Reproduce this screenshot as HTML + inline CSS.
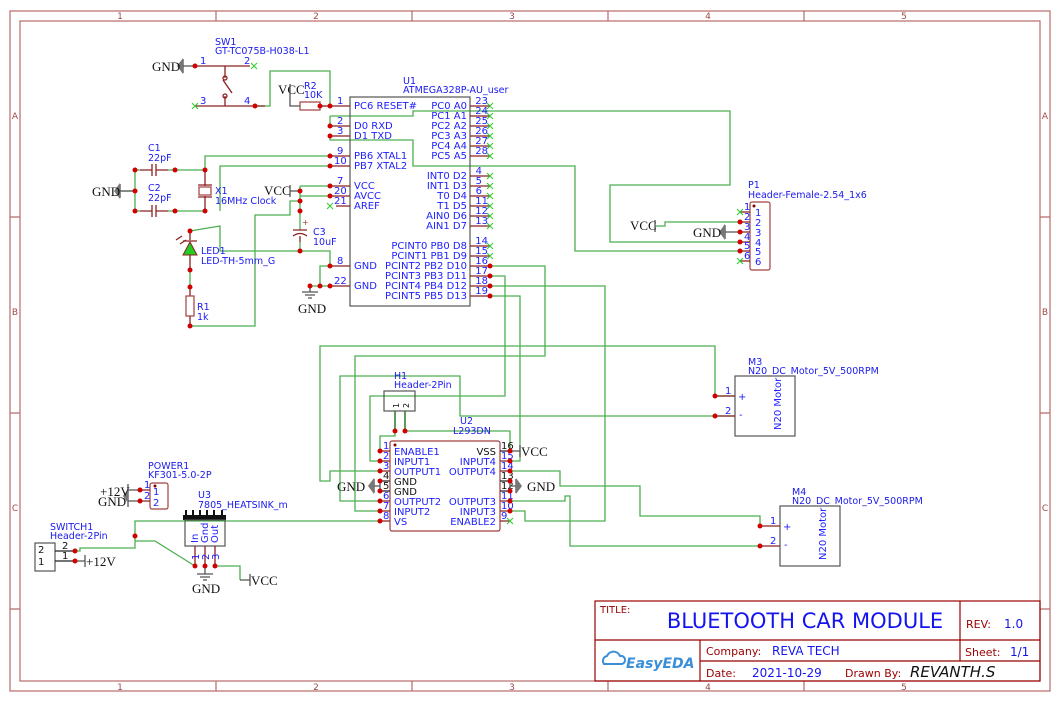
<!DOCTYPE html>
<html><head><meta charset="utf-8"><style>
html,body{margin:0;padding:0;background:#fff;}
svg{display:block;}
.f{stroke:#b86a6a;fill:none;stroke-width:1.2}
.w{stroke:#4caf50;fill:none;stroke-width:1.3}
.p{stroke:#8b2020;stroke-width:1.3;fill:none}
.b{stroke:#a04040;fill:none;stroke-width:1.2}
.g{stroke:#555;fill:none;stroke-width:1.3}
text{font-family:"DejaVu Sans","Liberation Sans",sans-serif;}
.t{fill:#1a1aee;font-size:9.5px}
.n{fill:#2020ff;font-size:10px}
.k{fill:#111;font-size:10px}
.s{font-family:"Liberation Serif",serif;fill:#111;font-size:13px}
.fr{fill:#a04848;font-size:9px}
.x{stroke:#33cc33;stroke-width:1.1}
</style></head><body>
<svg width="1060" height="702" viewBox="0 0 1060 702" xmlns="http://www.w3.org/2000/svg">
<rect x="10" y="11" width="1040" height="680" class="f"/>
<rect x="20" y="21" width="1020" height="660" class="f"/>
<g class="f"><path d="M216 11V21M412 11V21M608 11V21M804 11V21M216 681V691M412 681V691M608 681V691M804 681V691M10 217H20M10 413H20M10 609H20M1040 217H1050M1040 413H1050M1040 609H1050"/></g>
<g class="fr" text-anchor="middle">
<text x="120" y="19">1</text><text x="316" y="19">2</text><text x="512" y="19">3</text><text x="708" y="19">4</text><text x="904" y="19">5</text>
<text x="120" y="690">1</text><text x="316" y="690">2</text><text x="512" y="690">3</text><text x="708" y="690">4</text><text x="904" y="690">5</text>
<text x="15" y="119">A</text><text x="15" y="315">B</text><text x="15" y="511">C</text>
<text x="1045" y="119">A</text><text x="1045" y="315">B</text><text x="1045" y="511">C</text>
</g>
<g stroke="#990000" fill="none" stroke-width="1.2">
<rect x="595" y="601" width="445" height="80"/>
<path d="M595 640H1040M700 661H960M700 640V681M960 601V661M960 661H1040"/>
</g>
<text x="600" y="613" font-size="10" fill="#990000">TITLE:</text>
<text x="805" y="628" font-size="21" fill="#1414f0" text-anchor="middle">BLUETOOTH CAR MODULE</text>
<text x="966" y="628" font-size="11" fill="#990000">REV:</text>
<text x="1004" y="628" font-size="12" fill="#1414f0">1.0</text>
<text x="706" y="655" font-size="11" fill="#990000">Company:</text>
<text x="772" y="655" font-size="12" fill="#1414f0">REVA TECH</text>
<text x="965" y="656" font-size="11" fill="#990000">Sheet:</text>
<text x="1010" y="656" font-size="12" fill="#1414f0">1/1</text>
<text x="706" y="677" font-size="11" fill="#990000">Date:</text>
<text x="752" y="677" font-size="12" fill="#1414f0">2021-10-29</text>
<text x="845" y="677" font-size="11" fill="#990000">Drawn By:</text>
<text x="910" y="677" font-size="15" font-style="italic" fill="#111">REVANTH.S</text>
<path d="M604 664a5 5 0 0 1 3-8a7 7 0 0 1 13 0a4 4 0 0 1 2 8z" fill="none" stroke="#3b8fd8" stroke-width="2"/>
<text x="626" y="668" font-size="14" font-weight="bold" font-style="italic" fill="#3b8fd8">EasyEDA</text>

<g class="w">
<path d="M255 106H270V71H330V106"/>
<path d="M330 116H413V111H730V185H610V242H740"/>
<path d="M330 126V116"/>
<path d="M330 136V140H413V166H575V251H740"/>
<path d="M205 170V156H330M220 211V166H330"/>
<path d="M135 170V211M135 170H140M168 170H205M135 211H140M168 211H205M120 191H135"/>
<path d="M300 186H330M300 196H330M300 186V230M300 242V251"/>
<path d="M300 201H290V215H255V326H190"/>
<path d="M190 231L220 226V251H330V266M330 266H320V286H330M310 286H320"/>
<path d="M190 270V287"/>
<path d="M655 226H665V222H740"/>
<path d="M490 266H545V356H355V511H380"/>
<path d="M490 276H505V396H370V461H380"/>
<path d="M490 286H605V521H525V511H510"/>
<path d="M490 296H520V461H510"/>
<path d="M380 471H330V481H320V346H715V396H735"/>
<path d="M380 501H340V376H460V416H735"/>
<path d="M405 431H510V451M395 431V436H380V451"/>
<path d="M510 471H560V486H640V516H760V526"/>
<path d="M510 501H565V496H570V546H760"/>
<path d="M380 521H135V548H80V551H75M135 541H155L195 566"/>
<path d="M215 566H240V580"/>
</g>

<text x="215" y="45" class="t">SW1</text><text x="215" y="54" class="t">GT-TC075B-H038-L1</text>
<path class="g" d="M183 66H195M183 59V73"/><path d="M177 66l6-8v16z" fill="#777"/>
<text x="152" y="71" class="s">GND</text>
<path class="p" d="M195 66H250M195 106H265M225 66V78M225 96V106M223 80L232 93"/>
<circle cx="225" cy="78" r="2" class="p" fill="#fff"/><circle cx="225" cy="96" r="2" class="p" fill="#fff"/>
<text x="200" y="64" class="n">1</text><text x="244" y="64" class="n">2</text><text x="200" y="104" class="n">3</text><text x="244" y="104" class="n">4</text>
<path class="x" d="M251 63l6 6M257 63l-6 6M192 103l6 6M198 103l-6 6"/>

<text x="278" y="94" class="s">VCC</text><path class="g" d="M290 84V96M290 96V106H300"/>
<rect x="300" y="102" width="20" height="8" class="b"/><path class="p" d="M320 106H330"/>
<text x="304" y="89" class="t">R2</text><text x="304" y="98" class="t">10K</text>

<text x="403" y="84" class="t">U1</text><text x="403" y="93" class="t">ATMEGA328P-AU_user</text>
<rect x="350" y="97" width="120" height="209" fill="none" stroke="#555" stroke-width="1.2"/>
<g class="p"><path d="M330 106H350M330 126H350M330 136H350M330 156H350M330 166H350M330 186H350M330 196H350M336 206H350M330 266H350M330 286H350"/>
<path d="M470 106H490M470 116H490M470 126H490M470 136H490M470 146H490M470 156H490M470 176H490M470 186H490M470 196H490M470 206H490M470 216H490M470 226H490M470 246H490M470 256H490M470 266H490M470 276H490M470 286H490M470 296H490"/></g>
<g class="n"><text x="337" y="104">1</text><text x="337" y="124">2</text><text x="337" y="134">3</text><text x="337" y="154">9</text><text x="334" y="164">10</text><text x="337" y="184">7</text><text x="334" y="194">20</text><text x="334" y="204">21</text><text x="337" y="264">8</text><text x="334" y="284">22</text>
<text x="354" y="109">PC6 RESET#</text><text x="354" y="129">D0 RXD</text><text x="354" y="139">D1 TXD</text><text x="354" y="159">PB6 XTAL1</text><text x="354" y="169">PB7 XTAL2</text><text x="354" y="189">VCC</text><text x="354" y="199">AVCC</text><text x="354" y="209">AREF</text><text x="354" y="269">GND</text><text x="354" y="289">GND</text></g>
<g class="n" text-anchor="end"><text x="467" y="109">PC0 A0</text><text x="467" y="119">PC1 A1</text><text x="467" y="129">PC2 A2</text><text x="467" y="139">PC3 A3</text><text x="467" y="149">PC4 A4</text><text x="467" y="159">PC5 A5</text><text x="467" y="179">INT0 D2</text><text x="467" y="189">INT1 D3</text><text x="467" y="199">T0 D4</text><text x="467" y="209">T1 D5</text><text x="467" y="219">AIN0 D6</text><text x="467" y="229">AIN1 D7</text><text x="467" y="249">PCINT0 PB0 D8</text><text x="467" y="259">PCINT1 PB1 D9</text><text x="467" y="269">PCINT2 PB2 D10</text><text x="467" y="279">PCINT3 PB3 D11</text><text x="467" y="289">PCINT4 PB4 D12</text><text x="467" y="299">PCINT5 PB5 D13</text>
<text x="488" y="104">23</text><text x="488" y="114">24</text><text x="488" y="124">25</text><text x="488" y="134">26</text><text x="488" y="144">27</text><text x="488" y="154">28</text><text x="482" y="174">4</text><text x="482" y="184">5</text><text x="482" y="194">6</text><text x="488" y="204">11</text><text x="488" y="214">12</text><text x="488" y="224">13</text><text x="488" y="244">14</text><text x="488" y="254">15</text><text x="488" y="264">16</text><text x="488" y="274">17</text><text x="488" y="284">18</text><text x="488" y="294">19</text></g>
<g class="x"><path d="M487 103l6 6M493 103l-6 6M487 113l6 6M493 113l-6 6M487 123l6 6M493 123l-6 6M487 133l6 6M493 133l-6 6M487 143l6 6M493 143l-6 6M487 153l6 6M493 153l-6 6M487 173l6 6M493 173l-6 6M487 183l6 6M493 183l-6 6M487 193l6 6M493 193l-6 6M487 203l6 6M493 203l-6 6M487 213l6 6M493 213l-6 6M487 223l6 6M493 223l-6 6M487 243l6 6M493 243l-6 6M487 253l6 6M493 253l-6 6M327 203l6 6M333 203l-6 6"/></g>

<text x="148" y="151" class="t">C1</text><text x="148" y="161" class="t">22pF</text>
<text x="148" y="191" class="t">C2</text><text x="148" y="201" class="t">22pF</text>
<g class="p"><path d="M140 170H152M152 164V176M156 164V176M156 170H168M140 211H152M152 205V217M156 205V217M156 211H168"/><path d="M205 170V186M205 196V211"/></g>
<rect x="199" y="187" width="12" height="8" class="b" stroke-width="1.8"/><path class="p" d="M198 185H212M198 197H212"/>
<text x="215" y="194" class="t">X1</text><text x="215" y="204" class="t">16MHz Clock</text>
<path class="g" d="M120 191H135M120 184V198"/><path d="M114 191l6-8v16z" fill="#777"/>
<text x="92" y="196" class="s">GND</text>

<text x="264" y="195" class="s">VCC</text><path class="g" d="M290 185V197M290 191H300"/>
<path class="p" d="M293 230H307M293 236Q300 231 307 236M300 236V242"/><text x="302" y="225" font-size="8" fill="#a04040">+</text>
<text x="313" y="235" class="t">C3</text><text x="313" y="245" class="t">10uF</text>
<path class="p" d="M190 231V240M190 255V270M183 241H197"/>
<path d="M190 242L183 255H197z" fill="#22cc22" stroke="#8b2020"/>
<path class="p" d="M176 240l6 -4M180 244l6 -4" stroke-width="0.9"/>
<text x="201" y="254" class="t">LED1</text><text x="201" y="264" class="t">LED-TH-5mm_G</text>
<path class="p" d="M190 287V296M190 316V326"/><rect x="186" y="296" width="8" height="20" class="b"/>
<text x="197" y="310" class="t">R1</text><text x="197" y="320" class="t">1k</text>
<path class="g" d="M310 286V292M302 292H318M305 295H315M308 298H312"/>
<text x="298" y="313" class="s">GND</text>

<text x="748" y="188" class="t">P1</text><text x="748" y="198" class="t">Header-Female-2.54_1x6</text>
<rect x="750" y="202" width="20" height="68" rx="2" class="b"/>
<path class="p" d="M740 212H750M740 222H750M740 232H750M740 242H750M740 251H750M740 261H750"/>
<g class="n"><text x="744" y="210">1</text><text x="744" y="220">2</text><text x="744" y="230">3</text><text x="744" y="240">4</text><text x="744" y="249">5</text><text x="744" y="259">6</text>
<text x="755" y="216">1</text><text x="755" y="226">2</text><text x="755" y="236">3</text><text x="755" y="246">4</text><text x="755" y="255">5</text><text x="755" y="265">6</text></g>
<circle cx="754" cy="206" r="1.5" fill="#8b0000"/>
<path class="x" d="M737 209l6 6M743 209l-6 6M737 258l6 6M743 258l-6 6"/>
<text x="630" y="230" class="s">VCC</text><path class="g" d="M655 220V232"/>
<path class="g" d="M725 232H740M725 225V239"/><path d="M719 232l6-8v16z" fill="#777"/>
<text x="693" y="237" class="s">GND</text>

<text x="394" y="379" class="t">H1</text><text x="394" y="388" class="t">Header-2Pin</text>
<rect x="384" y="391" width="31" height="20" fill="none" stroke="#555" stroke-width="1.2"/>
<path d="M395 411V431M405 411V431" stroke="#2a7a2a" stroke-width="1.5"/>
<text x="399" y="408" font-size="8" fill="#111" transform="rotate(-90 399 408)">1</text>
<text x="409" y="408" font-size="8" fill="#111" transform="rotate(-90 409 408)">2</text>

<text x="460" y="424" class="t">U2</text><text x="453" y="434" class="t">L293DN</text>
<rect x="390" y="441" width="110" height="90" rx="2" class="b"/>
<circle cx="395" cy="445" r="1.5" fill="#8b0000"/>
<path class="p" d="M380 451H390M380 461H390M380 471H390M380 501H390M380 511H390M380 521H390M500 461H510M500 471H510M500 501H510M500 511H510M500 521H510"/>
<path stroke="#222" stroke-width="1.2" d="M380 481H390M380 491H390M500 451H510M500 481H510M500 491H510"/>
<g class="n"><text x="383" y="449">1</text><text x="383" y="459">2</text><text x="383" y="469">3</text><text x="383" y="509">7</text><text x="383" y="499">6</text><text x="383" y="519">8</text>
<text x="394" y="455">ENABLE1</text><text x="394" y="465">INPUT1</text><text x="394" y="475">OUTPUT1</text><text x="394" y="505">OUTPUT2</text><text x="394" y="515">INPUT2</text><text x="394" y="525">VS</text>
<text x="501" y="459">15</text><text x="501" y="469">14</text><text x="501" y="499">11</text><text x="501" y="509">10</text><text x="501" y="519">9</text></g>
<g class="k"><text x="383" y="479">4</text><text x="383" y="489">5</text><text x="394" y="485">GND</text><text x="394" y="495">GND</text><text x="501" y="449">16</text><text x="501" y="479">13</text><text x="501" y="489">12</text></g>
<g class="n" text-anchor="end"><text x="496" y="465">INPUT4</text><text x="496" y="475">OUTPUT4</text><text x="496" y="505">OUTPUT3</text><text x="496" y="515">INPUT3</text><text x="496" y="525">ENABLE2</text></g>
<text x="496" y="455" class="k" text-anchor="end">VSS</text>
<path class="x" d="M507 518l6 6M513 518l-6 6"/>
<path class="g" d="M510 451H520M520 445V457"/><text x="521" y="456" class="s">VCC</text>
<path class="g" d="M374 486H380M380 481V491M374 479V493"/><path d="M368 486l6-8v16z" fill="#777"/><text x="337" y="491" class="s">GND</text>
<path class="g" d="M510 486H516M510 481V491M516 479V493"/><path d="M522 486l-6-8v16z" fill="#777"/><text x="527" y="491" class="s">GND</text>

<text x="748" y="365" class="t">M3</text><text x="748" y="374" class="t">N20_DC_Motor_5V_500RPM</text>
<rect x="735" y="376" width="60" height="60" fill="none" stroke="#555" stroke-width="1.2"/>
<path class="p" d="M715 396H735M715 416H735"/>
<text x="725" y="394" class="n">1</text><text x="725" y="414" class="n">2</text>
<text x="738" y="400" class="n">+</text><text x="739" y="418" class="n" font-size="8">-</text>
<text x="781" y="430" class="n" transform="rotate(-90 781 430)">N20 Motor</text>
<text x="792" y="495" class="t">M4</text><text x="792" y="504" class="t">N20_DC_Motor_5V_500RPM</text>
<rect x="780" y="506" width="60" height="60" fill="none" stroke="#555" stroke-width="1.2"/>
<path class="p" d="M760 526H780M760 546H780"/>
<text x="770" y="524" class="n">1</text><text x="770" y="544" class="n">2</text>
<text x="783" y="530" class="n">+</text><text x="784" y="548" class="n" font-size="8">-</text>
<text x="826" y="560" class="n" transform="rotate(-90 826 560)">N20 Motor</text>

<text x="148" y="469" class="t">POWER1</text><text x="148" y="478" class="t">KF301-5.0-2P</text>
<rect x="150" y="483" width="18" height="26" rx="2" class="b"/><circle cx="155" cy="486" r="1.5" fill="#8b0000"/>
<path class="p" d="M140 490H150M140 501H150"/>
<g class="n"><text x="144" y="488">1</text><text x="144" y="499">2</text><text x="153" y="495">1</text><text x="153" y="506">2</text></g>
<path class="g" d="M128 490H140M128 501H140M128 484V507"/><path d="M123 496l5-7v14z" fill="#777"/>
<text x="100" y="496" class="s">+12V</text><text x="98" y="506" class="s">GND</text>
<text x="198" y="498" class="t">U3</text><text x="198" y="508" class="t">7805_HEATSINK_m</text>
<rect x="183" y="515" width="43" height="5" fill="#111"/>
<path stroke="#111" stroke-width="2" d="M186 510V515M193 510V515M200 510V515M207 510V515M214 510V515M222 510V515"/>
<rect x="185" y="520" width="40" height="26" fill="none" stroke="#555" stroke-width="1.2"/>
<text x="198" y="543" class="n" font-size="8.5" transform="rotate(-90 198 543)">In</text>
<text x="208" y="543" class="n" font-size="8.5" transform="rotate(-90 208 543)">Gnd</text>
<text x="218" y="543" class="n" font-size="8.5" transform="rotate(-90 218 543)">Out</text>
<path class="p" d="M195 546V566M205 546V566M215 546V566" stroke="#a06060" stroke-width="2"/>
<g class="n" font-size="8"><text x="199" y="560" transform="rotate(-90 199 560)">1</text><text x="209" y="560" transform="rotate(-90 209 560)">2</text><text x="219" y="560" transform="rotate(-90 219 560)">3</text></g>
<path class="g" d="M205 566V574M197 574H213M200 577H210M203 580H207"/><text x="192" y="593" class="s">GND</text>
<path class="g" d="M240 580H250M250 574V586"/><text x="251" y="585" class="s">VCC</text>
<text x="50" y="530" class="t">SWITCH1</text><text x="50" y="539" class="t">Header-2Pin</text>
<rect x="35" y="543" width="20" height="28" fill="none" stroke="#555" stroke-width="1.2"/>
<path stroke="#222" stroke-width="1.2" d="M55 551H75M55 561H75"/>
<g class="k" font-size="9"><text x="38" y="553">2</text><text x="38" y="565">1</text><text x="62" y="549">2</text><text x="62" y="559">1</text></g>
<path class="g" d="M75 561H85M85 555V567"/><text x="86" y="566" class="s">+12V</text>

<g fill="#d00000">
<circle cx="195" cy="66" r="2.5"/><circle cx="255" cy="106" r="2.5"/><circle cx="330" cy="106" r="2.5"/><circle cx="320" cy="106" r="2.5"/>
<circle cx="330" cy="126" r="2.5"/><circle cx="330" cy="136" r="2.5"/><circle cx="330" cy="156" r="2.5"/><circle cx="330" cy="166" r="2.5"/>
<circle cx="330" cy="186" r="2.5"/><circle cx="330" cy="196" r="2.5"/><circle cx="330" cy="266" r="2.5"/><circle cx="330" cy="286" r="2.5"/>
<circle cx="320" cy="286" r="2.5"/><circle cx="310" cy="286" r="2.5"/>
<circle cx="135" cy="170" r="2.5"/><circle cx="135" cy="191" r="2.5"/><circle cx="135" cy="211" r="2.5"/><circle cx="175" cy="170" r="2.5"/><circle cx="175" cy="211" r="2.5"/>
<circle cx="205" cy="170" r="2.5"/><circle cx="205" cy="211" r="2.5"/>
<circle cx="300" cy="191" r="2.5"/><circle cx="300" cy="201" r="2.5"/><circle cx="300" cy="211" r="2.5"/><circle cx="300" cy="251" r="2.5"/>
<circle cx="190" cy="231" r="2.5"/><circle cx="190" cy="270" r="2.5"/><circle cx="190" cy="287" r="2.5"/><circle cx="190" cy="326" r="2.5"/>
<circle cx="490" cy="266" r="2.5"/><circle cx="490" cy="276" r="2.5"/><circle cx="490" cy="286" r="2.5"/><circle cx="490" cy="296" r="2.5"/>
<circle cx="740" cy="222" r="2.5"/><circle cx="740" cy="232" r="2.5"/><circle cx="740" cy="242" r="2.5"/><circle cx="740" cy="251" r="2.5"/>
<circle cx="395" cy="431" r="2.5"/><circle cx="405" cy="431" r="2.5"/>
<circle cx="380" cy="451" r="2.5"/><circle cx="380" cy="461" r="2.5"/><circle cx="380" cy="471" r="2.5"/><circle cx="380" cy="481" r="2.5"/><circle cx="380" cy="491" r="2.5"/><circle cx="380" cy="501" r="2.5"/><circle cx="380" cy="511" r="2.5"/><circle cx="380" cy="521" r="2.5"/>
<circle cx="510" cy="451" r="2.5"/><circle cx="510" cy="461" r="2.5"/><circle cx="510" cy="471" r="2.5"/><circle cx="510" cy="481" r="2.5"/><circle cx="510" cy="491" r="2.5"/><circle cx="510" cy="501" r="2.5"/><circle cx="510" cy="511" r="2.5"/>
<circle cx="715" cy="396" r="2.5"/><circle cx="715" cy="416" r="2.5"/><circle cx="760" cy="526" r="2.5"/><circle cx="760" cy="546" r="2.5"/>
<circle cx="140" cy="490" r="2.5"/><circle cx="140" cy="501" r="2.5"/><circle cx="135" cy="536" r="2.5"/>
<circle cx="75" cy="551" r="2.5"/><circle cx="75" cy="561" r="2.5"/>
<circle cx="195" cy="566" r="2.5"/><circle cx="205" cy="566" r="2.5"/><circle cx="215" cy="566" r="2.5"/>
</g>
</svg>
</body></html>
